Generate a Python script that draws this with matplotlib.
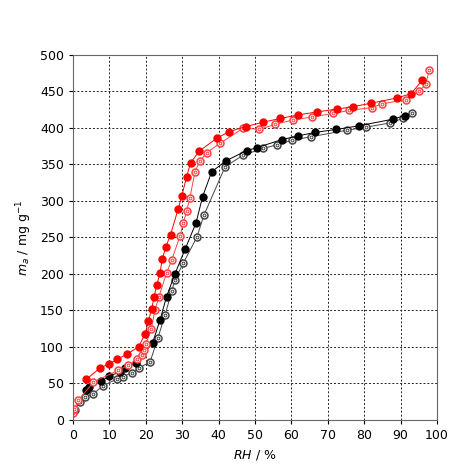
import matplotlib
matplotlib.use("Agg")
import matplotlib.pyplot as plt

rf_x = [3.7,7.4,9.9,12.2,14.7,18,19.8,20.7,21.6,22.3,23,23.9,24.5,25.5,26.8,28.9,29.9,31.2,32.3,34.6,39.5,42.9,47.5,52.3,56.9,61.9,67.1,72.6,76.8,81.9,88.9,92.9,96]
rf_y = [56,71,77,83,90,100,118,135,152,169,185,201,220,237,254,289,307,333,352,368,386,395,402,408,413,418,422,426,429,434,441,447,466]
ro_x = [0,0.3,1.5,5.6,12.4,15.2,17.5,18.9,19.5,20,21.5,22.5,23.6,25.7,27.1,29.4,30.3,31.2,32.1,33.5,34.9,36.7,40.4,46.8,51.2,55.5,60.4,65.6,71.5,75.9,82,85,91.5,95.1,96.9,97.9]
ro_y = [9,15,27,52,68,75,83,89,96,104,125,150,169,201,219,252,270,286,304,340,355,366,379,400,398,405,411,415,420,424,428,433,439,450,460,480]
bf_x = [3.7,4.5,7.6,10,12.9,14.3,17.3,21.9,23.9,25.7,28,30.8,33.8,35.6,38.1,42,47.7,50.5,57.3,61.7,66.5,72.3,78.6,87.8,91.2]
bf_y = [41,45,53,60,66,71,78,106,137,169,200,234,270,306,340,355,369,373,384,389,394,398,403,412,417]
bo_x = [0.5,1.9,3.3,5.6,8.3,12,13.8,16.1,18.2,21.2,23.3,25.3,27.1,28,30.3,34,36,41.8,46.8,52.3,56,60.1,65.3,75.4,80.5,87.1,90.6,93.2]
bo_y = [14,25,32,36,47,56,59,65,71,80,112,144,176,192,215,250,281,347,363,372,377,383,388,397,401,407,413,421]

fig = plt.figure(figsize=(4.74,4.74), dpi=100)
ax = fig.add_axes([0.154,0.114,0.768,0.77])
ms = 5
ax.plot(bo_x, bo_y, '-', color='#444444', lw=0.7, marker='o', mfc='white', mec='#444444', mew=1.1, ms=ms)
ax.plot(bo_x, bo_y, 'o', color='#444444', ms=2, mfc='none', mew=0.7)
ax.plot(bf_x, bf_y, '-o', color='black', lw=0.7, ms=ms)
ax.plot(ro_x, ro_y, '-', color='#ff4040', lw=0.7, marker='o', mfc='white', mec='#ff4040', mew=1.1, ms=ms)
ax.plot(ro_x, ro_y, 'o', color='#ff4040', ms=2, mfc='none', mew=0.7)
ax.plot(rf_x, rf_y, '-o', color='red', lw=0.7, ms=ms)
ax.set_xlim(0,100); ax.set_ylim(0,500)
ax.set_xticks(range(0,101,10)); ax.set_yticks(range(0,501,50))
ax.grid(True, color='#222222', linestyle=(0,(2,2)), lw=0.7)
ax.set_axisbelow(True)
ax.tick_params(direction='out', labelsize=9, length=3)
for s in ax.spines.values(): s.set_color('#666666')
ax.set_xlabel(r'$RH$ / %', fontsize=9)
ax.set_ylabel(r'$m_a$ / mg g$^{-1}$', fontsize=9)
fig.savefig('out.png', dpi=100)
